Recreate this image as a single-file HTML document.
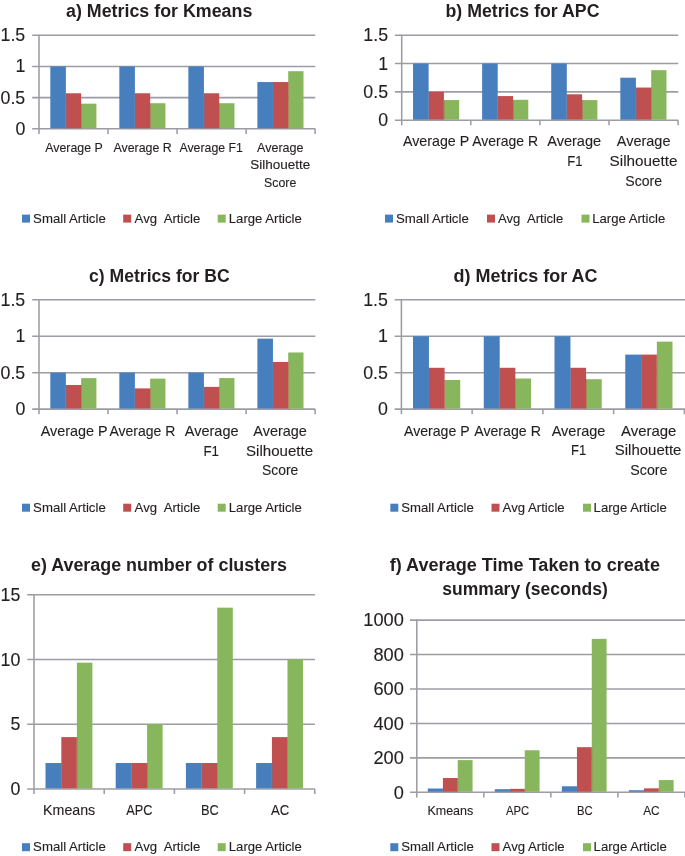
<!DOCTYPE html>
<html lang="en"><head><meta charset="utf-8"><title>Clustering metrics charts</title>
<style>
html,body{margin:0;padding:0;background:#fff;}
body{width:685px;height:856px;overflow:hidden;}
svg{display:block;font-family:"Liberation Sans",sans-serif;fill:#231f20;}
text{white-space:pre;stroke:#231f20;stroke-width:0.12px;}
text.b{font-weight:bold;stroke:none;}
</style></head><body>
<svg width="685" height="856" viewBox="0 0 685 856">
<rect width="685" height="856" fill="#ffffff"/>
<g id="chart-a">
<line x1="32.20" y1="128.80" x2="315.25" y2="128.80" stroke="#9c9ca4" stroke-width="1.55"/>
<text x="15.40" y="134.82" font-size="17.6" textLength="9.89" lengthAdjust="spacingAndGlyphs">0</text>
<line x1="32.20" y1="97.63" x2="315.25" y2="97.63" stroke="#9c9ca4" stroke-width="1.55"/>
<text x="0.55" y="103.65" font-size="17.6" textLength="24.71" lengthAdjust="spacingAndGlyphs">0.5</text>
<line x1="32.20" y1="66.47" x2="315.25" y2="66.47" stroke="#9c9ca4" stroke-width="1.55"/>
<text x="15.40" y="72.49" font-size="17.6" textLength="9.89" lengthAdjust="spacingAndGlyphs">1</text>
<line x1="32.20" y1="35.30" x2="315.25" y2="35.30" stroke="#9c9ca4" stroke-width="1.55"/>
<text x="0.55" y="41.32" font-size="17.6" textLength="24.71" lengthAdjust="spacingAndGlyphs">1.5</text>
<line x1="39.00" y1="34.70" x2="39.00" y2="133.90" stroke="#9c9ca4" stroke-width="1.55"/>
<line x1="108.03" y1="128.80" x2="108.03" y2="133.90" stroke="#9c9ca4" stroke-width="1.55"/>
<line x1="177.05" y1="128.80" x2="177.05" y2="133.90" stroke="#9c9ca4" stroke-width="1.55"/>
<line x1="246.08" y1="128.80" x2="246.08" y2="133.90" stroke="#9c9ca4" stroke-width="1.55"/>
<line x1="315.10" y1="128.80" x2="315.10" y2="133.90" stroke="#9c9ca4" stroke-width="1.55"/>
<rect x="50.31" y="66.47" width="15.57" height="61.83" fill="#477fbe"/>
<rect x="65.88" y="93.27" width="15.27" height="35.03" fill="#c05050"/>
<rect x="65.78" y="93.27" width="0.5" height="35.03" fill="#477fbe"/>
<rect x="81.15" y="103.68" width="15.27" height="24.62" fill="#88b65c"/>
<rect x="81.05" y="103.68" width="0.5" height="24.62" fill="#c05050"/>
<rect x="119.33" y="66.47" width="15.57" height="61.83" fill="#477fbe"/>
<rect x="134.90" y="93.27" width="15.27" height="35.03" fill="#c05050"/>
<rect x="134.80" y="93.27" width="0.5" height="35.03" fill="#477fbe"/>
<rect x="150.17" y="103.24" width="15.27" height="25.06" fill="#88b65c"/>
<rect x="150.07" y="103.24" width="0.5" height="25.06" fill="#c05050"/>
<rect x="188.36" y="66.47" width="15.57" height="61.83" fill="#477fbe"/>
<rect x="203.93" y="93.27" width="15.27" height="35.03" fill="#c05050"/>
<rect x="203.83" y="93.27" width="0.5" height="35.03" fill="#477fbe"/>
<rect x="219.20" y="103.24" width="15.27" height="25.06" fill="#88b65c"/>
<rect x="219.10" y="103.24" width="0.5" height="25.06" fill="#c05050"/>
<rect x="257.38" y="82.05" width="15.57" height="46.25" fill="#477fbe"/>
<rect x="272.95" y="82.05" width="15.27" height="46.25" fill="#c05050"/>
<rect x="272.85" y="82.05" width="0.5" height="46.25" fill="#477fbe"/>
<rect x="288.22" y="71.20" width="15.27" height="57.10" fill="#88b65c"/>
<rect x="288.12" y="82.05" width="0.5" height="46.25" fill="#c05050"/>
<text x="66.00" y="16.60" font-size="18.9" class="b" textLength="186.36" lengthAdjust="spacingAndGlyphs">a) Metrics for Kmeans</text>
<text x="45.30" y="151.80" font-size="13.2" textLength="57.50" lengthAdjust="spacingAndGlyphs">Average P</text>
<text x="113.40" y="151.80" font-size="13.2" textLength="58.42" lengthAdjust="spacingAndGlyphs">Average R</text>
<text x="179.40" y="151.80" font-size="13.2" textLength="63.59" lengthAdjust="spacingAndGlyphs">Average F1</text>
<text x="257.00" y="151.80" font-size="13.2" textLength="46.52" lengthAdjust="spacingAndGlyphs">Average</text>
<text x="250.30" y="169.20" font-size="13.2" textLength="60.01" lengthAdjust="spacingAndGlyphs">Silhouette</text>
<text x="264.00" y="186.60" font-size="13.2" textLength="32.28" lengthAdjust="spacingAndGlyphs">Score</text>
<rect x="22.00" y="214.60" width="8" height="8" fill="#477fbe"/>
<text x="33.10" y="222.70" font-size="13.1" textLength="72.67" lengthAdjust="spacingAndGlyphs">Small Article</text>
<rect x="123.20" y="214.60" width="8" height="8" fill="#c05050"/>
<text x="134.60" y="222.70" font-size="13.1" textLength="65.69" lengthAdjust="spacingAndGlyphs">Avg  Article</text>
<rect x="217.70" y="214.60" width="8" height="8" fill="#88b65c"/>
<text x="228.80" y="222.70" font-size="13.1" textLength="73.02" lengthAdjust="spacingAndGlyphs">Large Article</text>
</g>
<g id="chart-b">
<line x1="394.90" y1="120.20" x2="678.25" y2="120.20" stroke="#9c9ca4" stroke-width="1.55"/>
<text x="378.20" y="126.22" font-size="17.6" textLength="9.89" lengthAdjust="spacingAndGlyphs">0</text>
<line x1="394.90" y1="91.87" x2="678.25" y2="91.87" stroke="#9c9ca4" stroke-width="1.55"/>
<text x="363.36" y="97.89" font-size="17.6" textLength="24.71" lengthAdjust="spacingAndGlyphs">0.5</text>
<line x1="394.90" y1="63.53" x2="678.25" y2="63.53" stroke="#9c9ca4" stroke-width="1.55"/>
<text x="378.20" y="69.55" font-size="17.6" textLength="9.89" lengthAdjust="spacingAndGlyphs">1</text>
<line x1="394.90" y1="35.20" x2="678.25" y2="35.20" stroke="#9c9ca4" stroke-width="1.55"/>
<text x="363.36" y="41.22" font-size="17.6" textLength="24.71" lengthAdjust="spacingAndGlyphs">1.5</text>
<line x1="401.70" y1="34.60" x2="401.70" y2="125.30" stroke="#9c9ca4" stroke-width="1.55"/>
<line x1="470.80" y1="120.20" x2="470.80" y2="125.30" stroke="#9c9ca4" stroke-width="1.55"/>
<line x1="539.90" y1="120.20" x2="539.90" y2="125.30" stroke="#9c9ca4" stroke-width="1.55"/>
<line x1="609.00" y1="120.20" x2="609.00" y2="125.30" stroke="#9c9ca4" stroke-width="1.55"/>
<line x1="678.10" y1="120.20" x2="678.10" y2="125.30" stroke="#9c9ca4" stroke-width="1.55"/>
<rect x="413.02" y="63.53" width="15.59" height="56.17" fill="#477fbe"/>
<rect x="428.61" y="91.87" width="15.29" height="27.83" fill="#c05050"/>
<rect x="428.51" y="91.87" width="0.5" height="27.83" fill="#477fbe"/>
<rect x="443.89" y="100.08" width="15.29" height="19.62" fill="#88b65c"/>
<rect x="443.79" y="100.08" width="0.5" height="19.62" fill="#c05050"/>
<rect x="482.12" y="63.53" width="15.59" height="56.17" fill="#477fbe"/>
<rect x="497.71" y="96.06" width="15.29" height="23.64" fill="#c05050"/>
<rect x="497.61" y="96.06" width="0.5" height="23.64" fill="#477fbe"/>
<rect x="512.99" y="99.80" width="15.29" height="19.90" fill="#88b65c"/>
<rect x="512.89" y="99.80" width="0.5" height="19.90" fill="#c05050"/>
<rect x="551.22" y="63.53" width="15.59" height="56.17" fill="#477fbe"/>
<rect x="566.81" y="94.30" width="15.29" height="25.40" fill="#c05050"/>
<rect x="566.71" y="94.30" width="0.5" height="25.40" fill="#477fbe"/>
<rect x="582.09" y="100.08" width="15.29" height="19.62" fill="#88b65c"/>
<rect x="581.99" y="100.08" width="0.5" height="19.62" fill="#c05050"/>
<rect x="620.32" y="77.70" width="15.59" height="42.00" fill="#477fbe"/>
<rect x="635.91" y="87.56" width="15.29" height="32.14" fill="#c05050"/>
<rect x="635.81" y="87.56" width="0.5" height="32.14" fill="#477fbe"/>
<rect x="651.19" y="70.16" width="15.29" height="49.54" fill="#88b65c"/>
<rect x="651.09" y="87.56" width="0.5" height="32.14" fill="#c05050"/>
<text x="445.50" y="16.60" font-size="18.9" class="b" textLength="153.97" lengthAdjust="spacingAndGlyphs">b) Metrics for APC</text>
<text x="403.00" y="146.20" font-size="15.0" textLength="66.17" lengthAdjust="spacingAndGlyphs">Average P</text>
<text x="472.30" y="146.20" font-size="15.0" textLength="65.70" lengthAdjust="spacingAndGlyphs">Average R</text>
<text x="547.20" y="146.20" font-size="15.0" textLength="54.00" lengthAdjust="spacingAndGlyphs">Average</text>
<text x="567.30" y="165.90" font-size="15.0" textLength="15.20" lengthAdjust="spacingAndGlyphs">F1</text>
<text x="616.80" y="146.20" font-size="15.0" textLength="53.70" lengthAdjust="spacingAndGlyphs">Average</text>
<text x="609.60" y="165.90" font-size="15.0" textLength="67.82" lengthAdjust="spacingAndGlyphs">Silhouette</text>
<text x="625.30" y="185.60" font-size="15.0" textLength="36.69" lengthAdjust="spacingAndGlyphs">Score</text>
<rect x="385.00" y="214.60" width="8" height="8" fill="#477fbe"/>
<text x="396.00" y="222.70" font-size="13.1" textLength="72.77" lengthAdjust="spacingAndGlyphs">Small Article</text>
<rect x="487.00" y="214.60" width="8" height="8" fill="#c05050"/>
<text x="498.00" y="222.70" font-size="13.1" textLength="65.29" lengthAdjust="spacingAndGlyphs">Avg  Article</text>
<rect x="581.50" y="214.60" width="8" height="8" fill="#88b65c"/>
<text x="592.20" y="222.70" font-size="13.1" textLength="73.02" lengthAdjust="spacingAndGlyphs">Large Article</text>
</g>
<g id="chart-c">
<line x1="32.20" y1="409.10" x2="315.25" y2="409.10" stroke="#9c9ca4" stroke-width="1.55"/>
<text x="15.40" y="415.12" font-size="17.6" textLength="9.89" lengthAdjust="spacingAndGlyphs">0</text>
<line x1="32.20" y1="372.67" x2="315.25" y2="372.67" stroke="#9c9ca4" stroke-width="1.55"/>
<text x="0.55" y="378.69" font-size="17.6" textLength="24.71" lengthAdjust="spacingAndGlyphs">0.5</text>
<line x1="32.20" y1="336.23" x2="315.25" y2="336.23" stroke="#9c9ca4" stroke-width="1.55"/>
<text x="15.40" y="342.25" font-size="17.6" textLength="9.89" lengthAdjust="spacingAndGlyphs">1</text>
<line x1="32.20" y1="299.80" x2="315.25" y2="299.80" stroke="#9c9ca4" stroke-width="1.55"/>
<text x="0.55" y="305.82" font-size="17.6" textLength="24.71" lengthAdjust="spacingAndGlyphs">1.5</text>
<line x1="39.00" y1="299.20" x2="39.00" y2="414.20" stroke="#9c9ca4" stroke-width="1.55"/>
<line x1="108.03" y1="409.10" x2="108.03" y2="414.20" stroke="#9c9ca4" stroke-width="1.55"/>
<line x1="177.05" y1="409.10" x2="177.05" y2="414.20" stroke="#9c9ca4" stroke-width="1.55"/>
<line x1="246.08" y1="409.10" x2="246.08" y2="414.20" stroke="#9c9ca4" stroke-width="1.55"/>
<line x1="315.10" y1="409.10" x2="315.10" y2="414.20" stroke="#9c9ca4" stroke-width="1.55"/>
<rect x="50.31" y="372.67" width="15.57" height="35.93" fill="#477fbe"/>
<rect x="65.88" y="384.98" width="15.27" height="23.62" fill="#c05050"/>
<rect x="65.78" y="384.98" width="0.5" height="23.62" fill="#477fbe"/>
<rect x="81.15" y="378.13" width="15.27" height="30.47" fill="#88b65c"/>
<rect x="81.05" y="384.98" width="0.5" height="23.62" fill="#c05050"/>
<rect x="119.33" y="372.67" width="15.57" height="35.93" fill="#477fbe"/>
<rect x="134.90" y="388.41" width="15.27" height="20.19" fill="#c05050"/>
<rect x="134.80" y="388.41" width="0.5" height="20.19" fill="#477fbe"/>
<rect x="150.17" y="378.64" width="15.27" height="29.96" fill="#88b65c"/>
<rect x="150.07" y="388.41" width="0.5" height="20.19" fill="#c05050"/>
<rect x="188.36" y="372.67" width="15.57" height="35.93" fill="#477fbe"/>
<rect x="203.93" y="386.88" width="15.27" height="21.72" fill="#c05050"/>
<rect x="203.83" y="386.88" width="0.5" height="21.72" fill="#477fbe"/>
<rect x="219.20" y="378.06" width="15.27" height="30.54" fill="#88b65c"/>
<rect x="219.10" y="386.88" width="0.5" height="21.72" fill="#c05050"/>
<rect x="257.38" y="338.64" width="15.57" height="69.96" fill="#477fbe"/>
<rect x="272.95" y="361.96" width="15.27" height="46.64" fill="#c05050"/>
<rect x="272.85" y="361.96" width="0.5" height="46.64" fill="#477fbe"/>
<rect x="288.22" y="352.48" width="15.27" height="56.12" fill="#88b65c"/>
<rect x="288.12" y="361.96" width="0.5" height="46.64" fill="#c05050"/>
<text x="89.00" y="281.70" font-size="18.9" class="b" textLength="140.72" lengthAdjust="spacingAndGlyphs">c) Metrics for BC</text>
<text x="40.70" y="435.70" font-size="15.0" textLength="66.97" lengthAdjust="spacingAndGlyphs">Average P</text>
<text x="109.50" y="435.70" font-size="15.0" textLength="65.90" lengthAdjust="spacingAndGlyphs">Average R</text>
<text x="184.80" y="435.70" font-size="15.0" textLength="53.80" lengthAdjust="spacingAndGlyphs">Average</text>
<text x="203.50" y="455.50" font-size="15.0" textLength="15.50" lengthAdjust="spacingAndGlyphs">F1</text>
<text x="253.30" y="435.70" font-size="15.0" textLength="53.50" lengthAdjust="spacingAndGlyphs">Average</text>
<text x="246.00" y="455.50" font-size="15.0" textLength="67.02" lengthAdjust="spacingAndGlyphs">Silhouette</text>
<text x="262.00" y="475.30" font-size="15.0" textLength="36.29" lengthAdjust="spacingAndGlyphs">Score</text>
<rect x="22.00" y="503.70" width="8" height="8" fill="#477fbe"/>
<text x="33.10" y="511.80" font-size="13.1" textLength="72.67" lengthAdjust="spacingAndGlyphs">Small Article</text>
<rect x="123.20" y="503.70" width="8" height="8" fill="#c05050"/>
<text x="134.60" y="511.80" font-size="13.1" textLength="65.69" lengthAdjust="spacingAndGlyphs">Avg  Article</text>
<rect x="217.70" y="503.70" width="8" height="8" fill="#88b65c"/>
<text x="228.80" y="511.80" font-size="13.1" textLength="73.02" lengthAdjust="spacingAndGlyphs">Large Article</text>
</g>
<g id="chart-d">
<line x1="394.60" y1="409.10" x2="689.40" y2="409.10" stroke="#9c9ca4" stroke-width="1.55"/>
<text x="378.00" y="415.19" font-size="17.8" textLength="9.90" lengthAdjust="spacingAndGlyphs">0</text>
<line x1="394.60" y1="372.67" x2="689.40" y2="372.67" stroke="#9c9ca4" stroke-width="1.55"/>
<text x="363.20" y="378.76" font-size="17.8" textLength="24.75" lengthAdjust="spacingAndGlyphs">0.5</text>
<line x1="394.60" y1="336.23" x2="689.40" y2="336.23" stroke="#9c9ca4" stroke-width="1.55"/>
<text x="378.00" y="342.33" font-size="17.8" textLength="9.90" lengthAdjust="spacingAndGlyphs">1</text>
<line x1="394.60" y1="299.80" x2="689.40" y2="299.80" stroke="#9c9ca4" stroke-width="1.55"/>
<text x="363.20" y="305.89" font-size="17.8" textLength="24.75" lengthAdjust="spacingAndGlyphs">1.5</text>
<line x1="401.40" y1="299.20" x2="401.40" y2="414.20" stroke="#9c9ca4" stroke-width="1.55"/>
<line x1="472.15" y1="409.10" x2="472.15" y2="414.20" stroke="#9c9ca4" stroke-width="1.55"/>
<line x1="542.90" y1="409.10" x2="542.90" y2="414.20" stroke="#9c9ca4" stroke-width="1.55"/>
<line x1="613.65" y1="409.10" x2="613.65" y2="414.20" stroke="#9c9ca4" stroke-width="1.55"/>
<line x1="684.40" y1="409.10" x2="684.40" y2="414.20" stroke="#9c9ca4" stroke-width="1.55"/>
<rect x="413.00" y="336.23" width="15.95" height="72.37" fill="#477fbe"/>
<rect x="428.95" y="367.78" width="15.65" height="40.82" fill="#c05050"/>
<rect x="428.85" y="367.78" width="0.5" height="40.82" fill="#477fbe"/>
<rect x="444.60" y="379.95" width="15.65" height="28.65" fill="#88b65c"/>
<rect x="444.50" y="379.95" width="0.5" height="28.65" fill="#c05050"/>
<rect x="483.75" y="336.23" width="15.95" height="72.37" fill="#477fbe"/>
<rect x="499.70" y="367.78" width="15.65" height="40.82" fill="#c05050"/>
<rect x="499.60" y="367.78" width="0.5" height="40.82" fill="#477fbe"/>
<rect x="515.35" y="378.50" width="15.65" height="30.10" fill="#88b65c"/>
<rect x="515.25" y="378.50" width="0.5" height="30.10" fill="#c05050"/>
<rect x="554.50" y="336.23" width="15.95" height="72.37" fill="#477fbe"/>
<rect x="570.45" y="367.78" width="15.65" height="40.82" fill="#c05050"/>
<rect x="570.35" y="367.78" width="0.5" height="40.82" fill="#477fbe"/>
<rect x="586.10" y="379.22" width="15.65" height="29.38" fill="#88b65c"/>
<rect x="586.00" y="379.22" width="0.5" height="29.38" fill="#c05050"/>
<rect x="625.25" y="354.60" width="15.95" height="54.00" fill="#477fbe"/>
<rect x="641.20" y="354.60" width="15.65" height="54.00" fill="#c05050"/>
<rect x="641.10" y="354.60" width="0.5" height="54.00" fill="#477fbe"/>
<rect x="656.85" y="341.63" width="15.65" height="66.97" fill="#88b65c"/>
<rect x="656.75" y="354.60" width="0.5" height="54.00" fill="#c05050"/>
<text x="453.50" y="281.70" font-size="18.9" class="b" textLength="144.06" lengthAdjust="spacingAndGlyphs">d) Metrics for AC</text>
<text x="404.00" y="435.60" font-size="15.0" textLength="65.67" lengthAdjust="spacingAndGlyphs">Average P</text>
<text x="474.20" y="435.60" font-size="15.0" textLength="66.70" lengthAdjust="spacingAndGlyphs">Average R</text>
<text x="551.70" y="435.60" font-size="15.0" textLength="53.70" lengthAdjust="spacingAndGlyphs">Average</text>
<text x="571.10" y="455.40" font-size="15.0" textLength="15.20" lengthAdjust="spacingAndGlyphs">F1</text>
<text x="621.00" y="435.60" font-size="15.0" textLength="55.40" lengthAdjust="spacingAndGlyphs">Average</text>
<text x="614.80" y="455.40" font-size="15.0" textLength="66.62" lengthAdjust="spacingAndGlyphs">Silhouette</text>
<text x="630.30" y="475.10" font-size="15.0" textLength="37.19" lengthAdjust="spacingAndGlyphs">Score</text>
<rect x="390.30" y="503.70" width="8" height="8" fill="#477fbe"/>
<text x="401.20" y="511.80" font-size="13.1" textLength="72.57" lengthAdjust="spacingAndGlyphs">Small Article</text>
<rect x="491.50" y="503.70" width="8" height="8" fill="#c05050"/>
<text x="502.60" y="511.80" font-size="13.1" textLength="62.05" lengthAdjust="spacingAndGlyphs">Avg Article</text>
<rect x="583.00" y="503.70" width="8" height="8" fill="#88b65c"/>
<text x="593.60" y="511.80" font-size="13.1" textLength="73.12" lengthAdjust="spacingAndGlyphs">Large Article</text>
</g>
<g id="chart-e">
<line x1="27.20" y1="788.90" x2="314.95" y2="788.90" stroke="#9c9ca4" stroke-width="1.55"/>
<text x="10.46" y="795.21" font-size="18.4" textLength="9.87" lengthAdjust="spacingAndGlyphs">0</text>
<line x1="27.20" y1="724.17" x2="314.95" y2="724.17" stroke="#9c9ca4" stroke-width="1.55"/>
<text x="10.46" y="730.47" font-size="18.4" textLength="9.87" lengthAdjust="spacingAndGlyphs">5</text>
<line x1="27.20" y1="659.43" x2="314.95" y2="659.43" stroke="#9c9ca4" stroke-width="1.55"/>
<text x="0.52" y="665.74" font-size="18.4" textLength="19.75" lengthAdjust="spacingAndGlyphs">10</text>
<line x1="27.20" y1="594.70" x2="314.95" y2="594.70" stroke="#9c9ca4" stroke-width="1.55"/>
<text x="0.52" y="601.01" font-size="18.4" textLength="19.75" lengthAdjust="spacingAndGlyphs">15</text>
<line x1="34.00" y1="594.10" x2="34.00" y2="794.00" stroke="#9c9ca4" stroke-width="1.55"/>
<line x1="104.20" y1="788.90" x2="104.20" y2="794.00" stroke="#9c9ca4" stroke-width="1.55"/>
<line x1="174.40" y1="788.90" x2="174.40" y2="794.00" stroke="#9c9ca4" stroke-width="1.55"/>
<line x1="244.60" y1="788.90" x2="244.60" y2="794.00" stroke="#9c9ca4" stroke-width="1.55"/>
<line x1="314.80" y1="788.90" x2="314.80" y2="794.00" stroke="#9c9ca4" stroke-width="1.55"/>
<rect x="45.50" y="763.01" width="15.83" height="25.39" fill="#477fbe"/>
<rect x="61.33" y="737.11" width="15.53" height="51.29" fill="#c05050"/>
<rect x="61.23" y="763.01" width="0.5" height="25.39" fill="#477fbe"/>
<rect x="76.87" y="662.67" width="15.53" height="125.73" fill="#88b65c"/>
<rect x="76.77" y="737.11" width="0.5" height="51.29" fill="#c05050"/>
<rect x="115.70" y="763.01" width="15.83" height="25.39" fill="#477fbe"/>
<rect x="131.53" y="763.01" width="15.53" height="25.39" fill="#c05050"/>
<rect x="131.43" y="763.01" width="0.5" height="25.39" fill="#477fbe"/>
<rect x="147.07" y="724.17" width="15.53" height="64.23" fill="#88b65c"/>
<rect x="146.97" y="763.01" width="0.5" height="25.39" fill="#c05050"/>
<rect x="185.90" y="763.01" width="15.83" height="25.39" fill="#477fbe"/>
<rect x="201.73" y="763.01" width="15.53" height="25.39" fill="#c05050"/>
<rect x="201.63" y="763.01" width="0.5" height="25.39" fill="#477fbe"/>
<rect x="217.27" y="607.65" width="15.53" height="180.75" fill="#88b65c"/>
<rect x="217.17" y="763.01" width="0.5" height="25.39" fill="#c05050"/>
<rect x="256.10" y="763.01" width="15.83" height="25.39" fill="#477fbe"/>
<rect x="271.93" y="737.11" width="15.53" height="51.29" fill="#c05050"/>
<rect x="271.83" y="763.01" width="0.5" height="25.39" fill="#477fbe"/>
<rect x="287.47" y="659.43" width="15.53" height="128.97" fill="#88b65c"/>
<rect x="287.37" y="737.11" width="0.5" height="51.29" fill="#c05050"/>
<text x="31.00" y="570.80" font-size="18.9" class="b" textLength="256.03" lengthAdjust="spacingAndGlyphs">e) Average number of clusters</text>
<text x="43.10" y="814.60" font-size="15.0" textLength="52.13" lengthAdjust="spacingAndGlyphs">Kmeans</text>
<text x="126.20" y="814.60" font-size="15.0" textLength="26.24" lengthAdjust="spacingAndGlyphs">APC</text>
<text x="201.00" y="814.60" font-size="15.0" textLength="17.83" lengthAdjust="spacingAndGlyphs">BC</text>
<text x="271.00" y="814.60" font-size="15.0" textLength="18.33" lengthAdjust="spacingAndGlyphs">AC</text>
<rect x="22.00" y="843.20" width="8" height="8" fill="#477fbe"/>
<text x="33.10" y="851.30" font-size="13.1" textLength="72.67" lengthAdjust="spacingAndGlyphs">Small Article</text>
<rect x="123.20" y="843.20" width="8" height="8" fill="#c05050"/>
<text x="134.60" y="851.30" font-size="13.1" textLength="65.69" lengthAdjust="spacingAndGlyphs">Avg  Article</text>
<rect x="217.70" y="843.20" width="8" height="8" fill="#88b65c"/>
<text x="228.80" y="851.30" font-size="13.1" textLength="73.02" lengthAdjust="spacingAndGlyphs">Large Article</text>
</g>
<g id="chart-f">
<line x1="410.00" y1="792.30" x2="689.90" y2="792.30" stroke="#9c9ca4" stroke-width="1.55"/>
<text x="393.70" y="798.54" font-size="18.2" textLength="10.12" lengthAdjust="spacingAndGlyphs">0</text>
<line x1="410.00" y1="757.86" x2="689.90" y2="757.86" stroke="#9c9ca4" stroke-width="1.55"/>
<text x="373.40" y="764.10" font-size="18.2" textLength="30.37" lengthAdjust="spacingAndGlyphs">200</text>
<line x1="410.00" y1="723.42" x2="689.90" y2="723.42" stroke="#9c9ca4" stroke-width="1.55"/>
<text x="373.40" y="729.66" font-size="18.2" textLength="30.37" lengthAdjust="spacingAndGlyphs">400</text>
<line x1="410.00" y1="688.98" x2="689.90" y2="688.98" stroke="#9c9ca4" stroke-width="1.55"/>
<text x="373.40" y="695.22" font-size="18.2" textLength="30.37" lengthAdjust="spacingAndGlyphs">600</text>
<line x1="410.00" y1="654.54" x2="689.90" y2="654.54" stroke="#9c9ca4" stroke-width="1.55"/>
<text x="373.40" y="660.78" font-size="18.2" textLength="30.37" lengthAdjust="spacingAndGlyphs">800</text>
<line x1="410.00" y1="620.10" x2="689.90" y2="620.10" stroke="#9c9ca4" stroke-width="1.55"/>
<text x="363.30" y="626.34" font-size="18.2" textLength="40.49" lengthAdjust="spacingAndGlyphs">1000</text>
<line x1="416.80" y1="619.50" x2="416.80" y2="797.40" stroke="#9c9ca4" stroke-width="1.55"/>
<line x1="483.82" y1="792.30" x2="483.82" y2="797.40" stroke="#9c9ca4" stroke-width="1.55"/>
<line x1="550.85" y1="792.30" x2="550.85" y2="797.40" stroke="#9c9ca4" stroke-width="1.55"/>
<line x1="617.88" y1="792.30" x2="617.88" y2="797.40" stroke="#9c9ca4" stroke-width="1.55"/>
<line x1="684.90" y1="792.30" x2="684.90" y2="797.40" stroke="#9c9ca4" stroke-width="1.55"/>
<rect x="427.77" y="788.51" width="15.13" height="3.29" fill="#477fbe"/>
<rect x="442.90" y="778.01" width="14.83" height="13.79" fill="#c05050"/>
<rect x="442.80" y="788.51" width="0.5" height="3.29" fill="#477fbe"/>
<rect x="457.73" y="760.10" width="14.83" height="31.70" fill="#88b65c"/>
<rect x="457.63" y="778.01" width="0.5" height="13.79" fill="#c05050"/>
<rect x="494.79" y="789.20" width="15.13" height="2.60" fill="#477fbe"/>
<rect x="509.92" y="788.86" width="14.83" height="2.94" fill="#c05050"/>
<rect x="509.82" y="789.20" width="0.5" height="2.60" fill="#477fbe"/>
<rect x="524.75" y="750.28" width="14.83" height="41.52" fill="#88b65c"/>
<rect x="524.65" y="788.86" width="0.5" height="2.94" fill="#c05050"/>
<rect x="561.82" y="786.27" width="15.13" height="5.53" fill="#477fbe"/>
<rect x="576.95" y="747.18" width="14.83" height="44.62" fill="#c05050"/>
<rect x="576.85" y="786.27" width="0.5" height="5.53" fill="#477fbe"/>
<rect x="591.78" y="638.87" width="14.83" height="152.93" fill="#88b65c"/>
<rect x="591.68" y="747.18" width="0.5" height="44.62" fill="#c05050"/>
<rect x="628.84" y="790.23" width="15.13" height="1.57" fill="#477fbe"/>
<rect x="643.97" y="788.34" width="14.83" height="3.46" fill="#c05050"/>
<rect x="643.87" y="790.23" width="0.5" height="1.57" fill="#477fbe"/>
<rect x="658.80" y="780.07" width="14.83" height="11.73" fill="#88b65c"/>
<rect x="658.70" y="788.34" width="0.5" height="3.46" fill="#c05050"/>
<text x="389.70" y="570.80" font-size="18.9" class="b" textLength="270.26" lengthAdjust="spacingAndGlyphs">f) Average Time Taken to create</text>
<text x="442.30" y="595.40" font-size="18.9" class="b" textLength="165.46" lengthAdjust="spacingAndGlyphs">summary (seconds)</text>
<text x="427.40" y="814.60" font-size="13.1" textLength="45.86" lengthAdjust="spacingAndGlyphs">Kmeans</text>
<text x="506.00" y="814.60" font-size="13.1" textLength="23.23" lengthAdjust="spacingAndGlyphs">APC</text>
<text x="577.00" y="814.60" font-size="13.1" textLength="15.70" lengthAdjust="spacingAndGlyphs">BC</text>
<text x="643.20" y="814.60" font-size="13.1" textLength="16.50" lengthAdjust="spacingAndGlyphs">AC</text>
<rect x="390.30" y="843.20" width="8" height="8" fill="#477fbe"/>
<text x="401.20" y="851.30" font-size="13.1" textLength="72.57" lengthAdjust="spacingAndGlyphs">Small Article</text>
<rect x="491.50" y="843.20" width="8" height="8" fill="#c05050"/>
<text x="502.60" y="851.30" font-size="13.1" textLength="62.05" lengthAdjust="spacingAndGlyphs">Avg Article</text>
<rect x="583.00" y="843.20" width="8" height="8" fill="#88b65c"/>
<text x="593.60" y="851.30" font-size="13.1" textLength="73.12" lengthAdjust="spacingAndGlyphs">Large Article</text>
</g>
</svg>
</body></html>
